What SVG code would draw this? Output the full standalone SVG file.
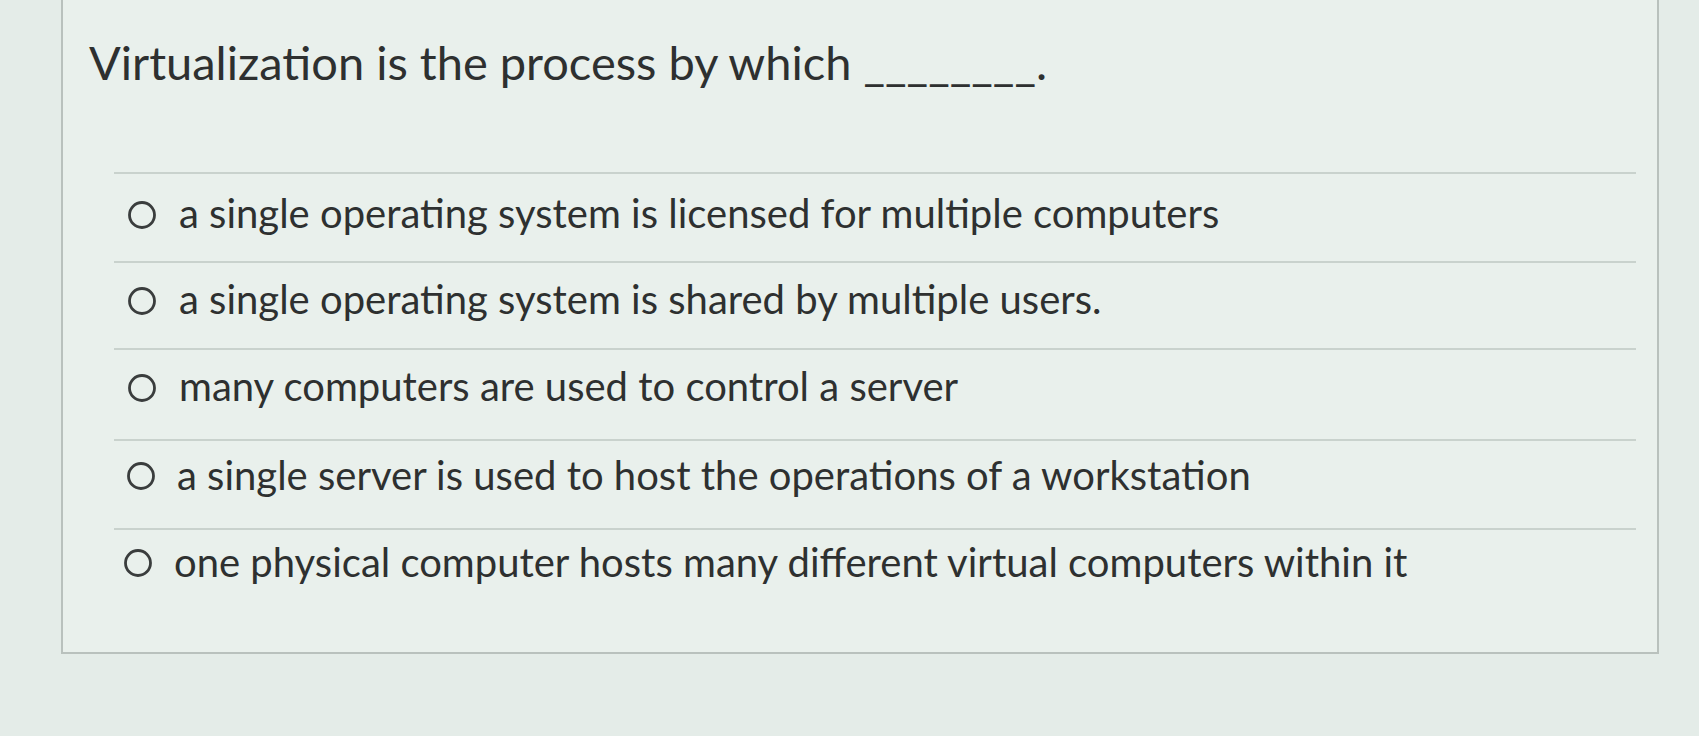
<svg xmlns="http://www.w3.org/2000/svg" width="1699" height="736" viewBox="0 0 1699 736">
<style>
.t{font-family:Lato,"Open Sans","Liberation Sans",sans-serif;fill:#2e3030}
.o{font-size:40px}
.r{fill:none;stroke:#3a3d3d;stroke-width:2.8}
.l{stroke:#c9d2cd;stroke-width:2}
</style>
<rect width="1699" height="736" fill="#e4ece8"/>
<rect x="62" y="-5" width="1596" height="658" fill="#e9f0ec" stroke="#b9c1bd" stroke-width="2"/>
<text class="t" x="89" y="80" font-size="47">Virtualization is the process by which ________.</text>
<g>
<line class="l" x1="114" y1="173" x2="1636" y2="173"/>
<line class="l" x1="114" y1="262" x2="1636" y2="262"/>
<line class="l" x1="114" y1="349" x2="1636" y2="349"/>
<line class="l" x1="114" y1="440" x2="1636" y2="440"/>
<line class="l" x1="114" y1="529" x2="1636" y2="529"/>
</g>
<g id="opt1"><circle class="r" cx="142" cy="215" r="12.5"/><text class="t o" x="179" y="228">a single operating system is licensed for multiple computers</text></g>
<g id="opt2"><circle class="r" cx="142" cy="301" r="12.5"/><text class="t o" x="179" y="314">a single operating system is shared by multiple users.</text></g>
<g id="opt3"><circle class="r" cx="142" cy="388" r="12.5"/><text class="t o" x="179" y="401">many computers are used to control a server</text></g>
<g id="opt4"><circle class="r" cx="141" cy="476" r="12.5"/><text class="t o" x="177" y="490">a single server is used to host the operations of a workstation</text></g>
<g id="opt5"><circle class="r" cx="138" cy="563" r="12.5"/><text class="t o" x="174" y="577">one physical computer hosts many different virtual computers within it</text></g>
</svg>
